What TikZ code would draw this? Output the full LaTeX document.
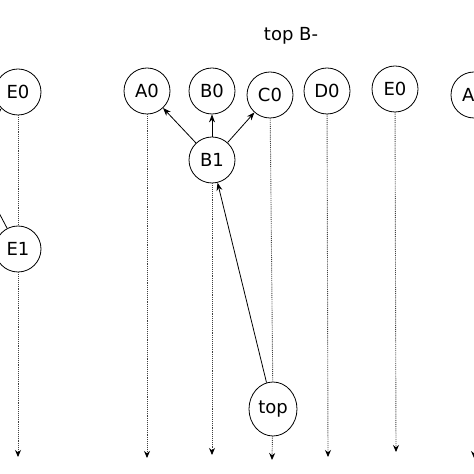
\documentclass[tikz,border=0pt]{standalone}
\usepackage{fontspec}
\setmainfont{DejaVu Sans}
\usepackage{tikz}
\usetikzlibrary{arrows.meta,shapes.geometric}

\begin{document}
\begin{tikzpicture}[x=1pt, y=1pt,
	font=\fontsize{18}{21}\selectfont,
	vnode/.style={draw, circle, minimum size=46pt, inner sep=0pt, line width=0.8pt, fill=white},
	topnode/.style={draw, ellipse, minimum width=48pt, minimum height=54pt, inner sep=0pt, line width=0.8pt, fill=white},
	life/.style={densely dotted, black!75, line width=0.9pt},
	lifeend/.style={life, -{Stealth[length=7pt, width=6pt, black]}},
	msg/.style={line width=0.8pt, -{Stealth[length=8pt, width=6pt]}}]
	\path[use as bounding box, clip] (0,0) rectangle (474,474);
	
	\node(TITLE) at (291,438){top B-};
	
	\node[vnode](EL0) at (18,382){E0};
	\node[vnode, below of=EL0, node distance=157pt](EL1){E1};
	
	\node[vnode](A0) at (147,383){A0};
	\node[vnode, right of=A0, node distance=65pt](B0){B0};
	\node[vnode, right of=B0, node distance=58pt, yshift=-4pt](C0){C0};
	\node[vnode, right of=B0, node distance=115pt](D0){D0};
	\node[vnode, right of=D0, node distance=68pt, yshift=2pt](E0){E0};
	\node[vnode, right of=E0, node distance=79pt, yshift=-6pt](A1){A0};
	
	\node[vnode, below of=B0, node distance=69pt](B1){B1};
	\node[topnode, below of=C0, node distance=314pt, xshift=3pt](TOP){top};
	
	\coordinate(EL1end) at (18,17);
	\coordinate(A0end) at (147,16);
	\coordinate(B1end) at (212,19);
	\coordinate(TOPend) at (272,14);
	\coordinate(D0end) at (328,17);
	\coordinate(E0end) at (396,22);
	\coordinate(A1end) at (474,16);
	\coordinate(OFF0) at (-50,314);
	\coordinate(OFF1) at (-65,383);
	
	% lifelines
	\draw[life] (EL0) -- (EL1);
	\draw[lifeend] (EL1) -- (EL1end);
	\draw[lifeend] (A0) -- (A0end);
	\draw[lifeend] (B1) -- (B1end);
	\draw[life] (C0) -- (TOP);
	\draw[lifeend] (TOP) -- (TOPend);
	\draw[lifeend] (D0) -- (D0end);
	\draw[lifeend] (E0) -- (E0end);
	\draw[lifeend] (A1) -- (A1end);
	
	% pointers
	\draw[msg] (B1) -- (A0);
	\draw[msg] (B1) -- (B0);
	\draw[msg] (B1) -- (C0);
	\draw[msg] (TOP) -- (B1);
	\draw[msg] (OFF0) -- (EL0);
	\draw[line width=0.8pt] (EL1) -- (OFF1);
\end{tikzpicture}
\end{document}
